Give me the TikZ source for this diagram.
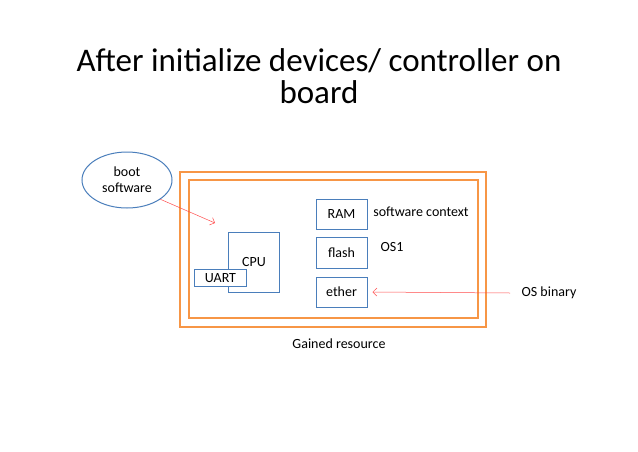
\documentclass[tikz,border=0pt]{standalone}
\usepackage{fontspec}
\setmainfont{Carlito}
\usetikzlibrary{arrows.meta,shapes.geometric}
\definecolor{sblue}{HTML}{4A7EBB}
\definecolor{sorange}{HTML}{F79646}
\begin{document}
\begin{tikzpicture}[x=1pt,y=-1pt,
 blu/.style={draw=sblue,line width=1pt},
 org/.style={draw=sorange,line width=1.3pt},
 box/.style={blu,minimum width=51pt,minimum height=30pt,font=\fontsize{14}{16}\selectfont,inner sep=0pt},
 lab/.style={font=\fontsize{14}{16}\selectfont,inner sep=0pt},
 red arrow/.style={draw=red!60!pink,-{Straight Barb[length=4pt]},line width=0.5pt}]
\useasboundingbox (0,0) rectangle (638,451);
\node[lab,font=\fontsize{33}{32}\selectfont,align=center] (title) at (319,76) {After initialize devices/ controller on\\board};
\node[org,minimum width=306pt,minimum height=155pt,inner sep=0pt] (outer) at (333,249.5) {};
\node[org,minimum width=289pt,minimum height=138pt,inner sep=0pt] (inner) at (333.5,249) {};
\node[blu,ellipse,minimum width=90pt,minimum height=56pt,align=center,lab] (boot) at (127,180) {boot\\software};
\node[box,minimum height=60pt,anchor=north west] (cpu) at (228,232) {};
\node[lab] (cpul) at (254,262) {CPU};
\node[box,fill=white,minimum width=52pt,minimum height=17pt,anchor=north west,label={[lab]center:UART}] (uart) at (194,269) {};
\node[box] (ram) at (341.5,214) {RAM};
\node[box,minimum height=31pt] (flash) at (341.5,252.5) {flash};
\node[box] (ether) at (341.5,292) {ether};
\node[lab] (sc) at (421,212) {software context};
\node[lab] (os1) at (392,247) {OS1};
\node[lab] (osb) at (549,293) {OS binary};
\node[lab] (gr) at (339,344) {Gained resource};
\coordinate (t) at (215,223);
\coordinate (osa) at (510,293);
\draw[red arrow] (boot.-30) -- (t);
\draw[red arrow] (osa) -- ([xshift=5pt]ether.east);
\end{tikzpicture}
\end{document}
